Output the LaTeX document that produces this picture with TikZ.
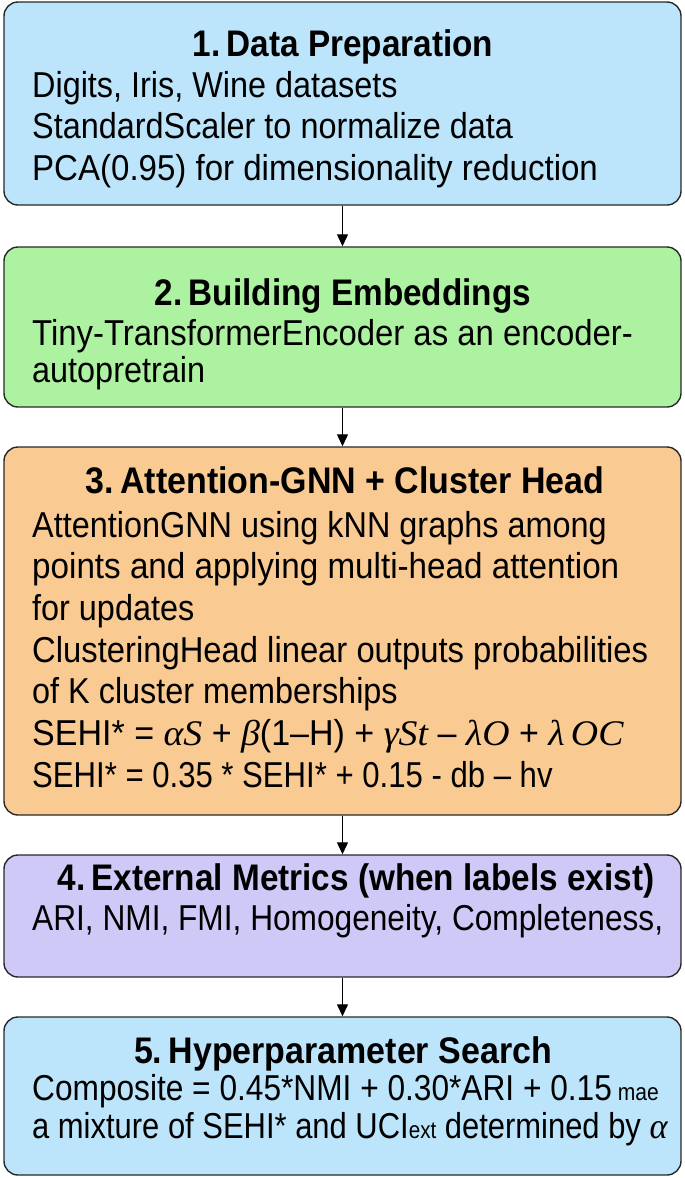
\documentclass[tikz,border=0pt]{standalone}
\usepackage{fontspec}
\setmainfont{Liberation Sans}[FakeStretch=0.9]
\newfontfamily\serifrm{Liberation Serif}
\usetikzlibrary{arrows.meta}
\definecolor{bluef}{RGB}{188,228,250}
\definecolor{greenf}{RGB}{173,242,160}
\definecolor{orangef}{RGB}{249,202,146}
\definecolor{purplef}{RGB}{207,201,247}
\definecolor{edge}{RGB}{40,40,40}
\tikzset{
  box/.style={draw=edge, line width=1.4pt, rounded corners=14pt, minimum width=677pt, inner sep=0pt},
  ttl/.style={anchor=base, font=\fontsize{37}{44}\selectfont\bfseries, inner sep=0pt},
  txt/.style={anchor=base west, font=\fontsize{36}{44}\selectfont, inner sep=0pt},
  arr/.style={line width=1.3pt, draw=black, -{Triangle[width=11pt,length=12pt]}}
}
\newcommand{\mi}[1]{{\serifrm\itshape #1}}
\newcommand{\sx}[2]{\scalebox{#1}[1]{#2}}
\begin{document}
\begin{tikzpicture}[x=1pt,y=1pt]
\useasboundingbox (0,0) rectangle (685,-1178);
% boxes
\node[box, fill=bluef,   minimum height=203pt] (b1) at (342.5,-103.5) {};
\node[box, fill=greenf,  minimum height=160pt] (b2) at (342.5,-327) {};
\node[box, fill=orangef, minimum height=368pt] (b3) at (342.5,-631) {};
\node[box, fill=purplef, minimum height=122pt] (b4) at (342.5,-916) {};
\node[box, fill=bluef,   minimum height=158pt] (b5) at (342.5,-1096) {};
% arrows
\draw[arr] (b1.south) -- (b2.north);
\draw[arr] (b2.south) -- (b3.north);
\draw[arr] (b3.south) -- (b4.north);
\draw[arr] (b4.south) -- (b5.north);
% box 1
\node[ttl] (t1) at (343,-56) {1.\,Data Preparation};
\node[txt] (l11) at (32,-97) {Digits, Iris, Wine datasets};
\node[txt] (l12) at (32,-138) {StandardScaler to normalize data};
\node[txt] (l13) at (32,-180) {\sx{1.02}{PCA(0.95) for dimensionality reduction}};
% box 2
\node[ttl] (t2) at (343,-305) {2.\,Building Embeddings};
\node[txt] (l21) at (32,-345) {\sx{1.015}{Tiny-TransformerEncoder as an encoder-}};
\node[txt] (l22) at (32,-382) {autopretrain};
% box 3
\node[ttl] (t3) at (345,-493) {\sx{1.02}{3.\,Attention-GNN + Cluster Head}};
\node[txt] (l31) at (32,-537) {AttentionGNN using kNN graphs among};
\node[txt] (l32) at (32,-578) {\sx{1.025}{points and applying multi-head attention}};
\node[txt] (l33) at (32,-620) {for updates};
\node[txt] (l34) at (32,-662) {\sx{1.012}{ClusteringHead linear outputs probabilities}};
\node[txt] (l35) at (32,-703) {of K cluster memberships};
\node[txt] (l36) at (32,-745) {\sx{1.05}{SEHI* = \mi{αS} + \mi{β}(1–H) + \mi{γSt} – \mi{λO} + \mi{λ\,OC}}};
\node[txt] (l37) at (32,-787) {\sx{0.96}{SEHI* = 0.35 * SEHI* + 0.15 - db – hv}};
% box 4
\node[ttl] (t4) at (356,-890) {4.\,External Metrics (when labels exist)};
\node[txt] (l41) at (32,-930) {\sx{0.977}{ARI, NMI, FMI, Homogeneity, Completeness,}};
% box 5
\node[ttl] (t5) at (343,-1063) {\sx{1.02}{5.\,Hyperparameter Search}};
\node[txt] (l51) at (32,-1100) {\sx{0.977}{Composite = 0.45*NMI + 0.30*ARI + 0.15\,{\fontsize{24}{28}\selectfont mae}}};
\node[txt] (l52) at (32,-1138) {\sx{0.955}{a mixture of SEHI* and UCI{\fontsize{24}{28}\selectfont ext} determined by \mi{α}}};
\end{tikzpicture}
\end{document}
